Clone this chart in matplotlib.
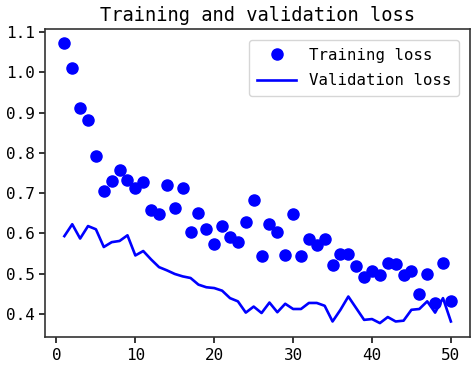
import matplotlib
matplotlib.use("Agg")
import matplotlib.pyplot as plt

# Loss per epoch
epochs = list(range(1, 51))
train_loss = [1.0725, 1.0115, 0.910, 0.8825, 0.7925, 0.704, 0.731, 0.756, 0.732, 0.7125,
              0.728, 0.6575, 0.6475, 0.719, 0.6625, 0.7125, 0.604, 0.650, 0.610, 0.574,
              0.617, 0.592, 0.578, 0.627, 0.683, 0.543, 0.624, 0.603, 0.545, 0.6475,
              0.543, 0.587, 0.570, 0.587, 0.5225, 0.5475, 0.5475, 0.518, 0.491, 0.506,
              0.496, 0.527, 0.524, 0.496, 0.5075, 0.449, 0.499, 0.428, 0.527, 0.4325]
val_loss = [0.593, 0.6225, 0.587, 0.618, 0.610, 0.566, 0.578, 0.581, 0.595, 0.545,
            0.556, 0.535, 0.516, 0.508, 0.499, 0.493, 0.489, 0.4725, 0.466, 0.464,
            0.4575, 0.439, 0.431, 0.403, 0.418, 0.402, 0.428, 0.404, 0.425, 0.412,
            0.412, 0.427, 0.427, 0.420, 0.381, 0.410, 0.443, 0.414, 0.385, 0.387,
            0.377, 0.392, 0.381, 0.383, 0.410, 0.412, 0.431, 0.403, 0.439, 0.381]

plt.rcParams['font.family'] = ['DejaVu Sans Mono']

fig = plt.figure(figsize=(4.74, 3.68), dpi=100)
ax = fig.add_axes([0.095, 0.084, 0.897, 0.837])

ax.plot(epochs, train_loss, 'bo', markersize=8, label='Training loss')
ax.plot(epochs, val_loss, 'b', linewidth=1.9, label='Validation loss')

ax.set_title('Training and validation loss', fontsize=13.5)
ax.tick_params(labelsize=11.5, length=4, width=1.1)
for s in ax.spines.values():
    s.set_linewidth(1.2)
    s.set_color('#333333')
ax.legend(loc='upper right', fontsize=11.3, handlelength=2.5,
          labelspacing=0.65, borderpad=0.5, borderaxespad=0.7)

fig.savefig('out.png', dpi=100)
